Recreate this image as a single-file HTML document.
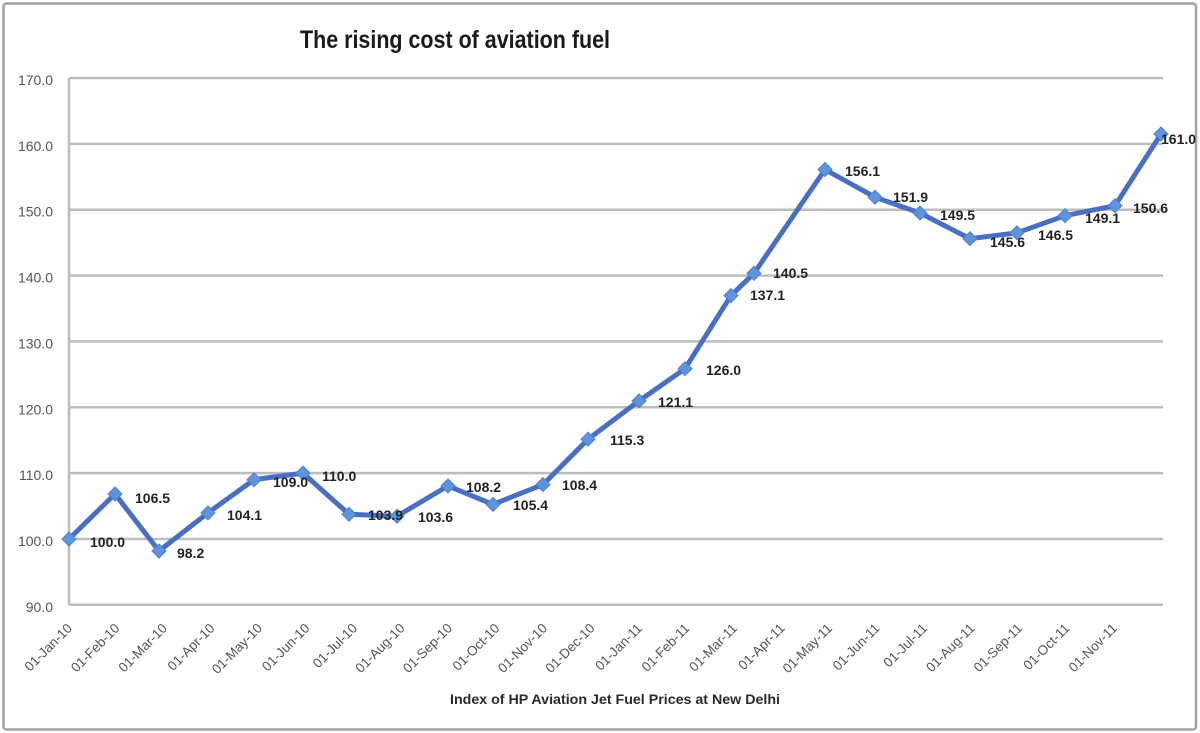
<!DOCTYPE html>
<html>
<head>
<meta charset="utf-8">
<style>
  html, body { margin: 0; padding: 0; background: #ffffff; }
  svg { display: block; }
  .yl { font-family: "Liberation Sans", sans-serif; font-size: 14px; fill: #555; }
  .xl { font-family: "Liberation Sans", sans-serif; font-size: 13.5px; fill: #555; }
  .dl { font-family: "Liberation Sans", sans-serif; font-size: 14px; font-weight: bold; fill: #222; }
</style>
</head>
<body>
<svg width="1200" height="733" viewBox="0 0 1200 733" xmlns="http://www.w3.org/2000/svg">
  <rect x="0" y="0" width="1200" height="733" fill="#ffffff"/>
  <rect x="3.5" y="3.5" width="1192.5" height="726" rx="3" fill="#ffffff" stroke="#a3a3a3" stroke-width="2.5"/>

  <!-- Title -->
  <text x="300" y="48" font-family="Liberation Sans, sans-serif" font-size="25" font-weight="bold" fill="#1a1a1a" textLength="310" lengthAdjust="spacingAndGlyphs">The rising cost of aviation fuel</text>

  <!-- Gridlines -->
  <g stroke="#bdbdbd" stroke-width="2.5">
    <line x1="69" y1="78" x2="1163" y2="78"/>
    <line x1="69" y1="143.9" x2="1163" y2="143.9"/>
    <line x1="69" y1="209.7" x2="1163" y2="209.7"/>
    <line x1="69" y1="275.6" x2="1163" y2="275.6"/>
    <line x1="69" y1="341.4" x2="1163" y2="341.4"/>
    <line x1="69" y1="407.3" x2="1163" y2="407.3"/>
    <line x1="69" y1="473.1" x2="1163" y2="473.1"/>
    <line x1="69" y1="539" x2="1163" y2="539"/>
    <line x1="69" y1="604.8" x2="1163" y2="604.8"/>
    <line x1="69" y1="78" x2="69" y2="604.8"/>
  </g>

  <!-- Y labels -->
  <g class="yl" text-anchor="end">
    <text x="53" y="85">170.0</text>
    <text x="53" y="150.9">160.0</text>
    <text x="53" y="216.7">150.0</text>
    <text x="53" y="282.6">140.0</text>
    <text x="53" y="348.4">130.0</text>
    <text x="53" y="414.3">120.0</text>
    <text x="53" y="480.1">110.0</text>
    <text x="53" y="546">100.0</text>
    <text x="53" y="611.8">90.0</text>
  </g>

  <!-- X labels -->
  <g class="xl" text-anchor="end">
    <text transform="translate(73,629) rotate(-45)">01-Jan-10</text>
    <text transform="translate(120.5,629) rotate(-45)">01-Feb-10</text>
    <text transform="translate(168,629) rotate(-45)">01-Mar-10</text>
    <text transform="translate(215.5,629) rotate(-45)">01-Apr-10</text>
    <text transform="translate(263,629) rotate(-45)">01-May-10</text>
    <text transform="translate(310.5,629) rotate(-45)">01-Jun-10</text>
    <text transform="translate(358,629) rotate(-45)">01-Jul-10</text>
    <text transform="translate(405.5,629) rotate(-45)">01-Aug-10</text>
    <text transform="translate(453,629) rotate(-45)">01-Sep-10</text>
    <text transform="translate(500.5,629) rotate(-45)">01-Oct-10</text>
    <text transform="translate(548,629) rotate(-45)">01-Nov-10</text>
    <text transform="translate(595.5,629) rotate(-45)">01-Dec-10</text>
    <text transform="translate(643,629) rotate(-45)">01-Jan-11</text>
    <text transform="translate(690.5,629) rotate(-45)">01-Feb-11</text>
    <text transform="translate(738,629) rotate(-45)">01-Mar-11</text>
    <text transform="translate(785.5,629) rotate(-45)">01-Apr-11</text>
    <text transform="translate(833,629) rotate(-45)">01-May-11</text>
    <text transform="translate(880.5,629) rotate(-45)">01-Jun-11</text>
    <text transform="translate(928,629) rotate(-45)">01-Jul-11</text>
    <text transform="translate(975.5,629) rotate(-45)">01-Aug-11</text>
    <text transform="translate(1023,629) rotate(-45)">01-Sep-11</text>
    <text transform="translate(1070.5,629) rotate(-45)">01-Oct-11</text>
    <text transform="translate(1118,629) rotate(-45)">01-Nov-11</text>
  </g>

  <!-- Axis title -->
  <text x="450" y="704" font-family="Liberation Sans, sans-serif" font-size="14" font-weight="bold" fill="#2a2a2a" textLength="330" lengthAdjust="spacingAndGlyphs">Index of HP Aviation Jet Fuel Prices at New Delhi</text>

  <!-- Series line -->
  <polyline fill="none" stroke="#4a6fc2" stroke-width="5" stroke-linejoin="round" stroke-linecap="round"
    points="69,539 115,494 159,551 208,512.9 254,479.7 303,473.1 349,514.3 397,516.2 448,485.9 493,504.4 543,484.6 588,439.2 639,400.9 685,368.7 731,295.6 754,273.3 825,169.5 875,197.2 920,213 970,238.7 1017,232.8 1065,215.7 1115,205.7 1161,134"/>

  <!-- Markers -->
  <g fill="#5d94dc" stroke="#4f82cc" stroke-width="1">
    <path d="M69,532 L76,539 L69,546 L62,539 Z"/>
    <path d="M115,487 L122,494 L115,501 L108,494 Z"/>
    <path d="M159,544 L166,551 L159,558 L152,551 Z"/>
    <path d="M208,505.9 L215,512.9 L208,519.9 L201,512.9 Z"/>
    <path d="M254,472.7 L261,479.7 L254,486.7 L247,479.7 Z"/>
    <path d="M303,466.1 L310,473.1 L303,480.1 L296,473.1 Z"/>
    <path d="M349,507.3 L356,514.3 L349,521.3 L342,514.3 Z"/>
    <path d="M397,509.2 L404,516.2 L397,523.2 L390,516.2 Z"/>
    <path d="M448,478.9 L455,485.9 L448,492.9 L441,485.9 Z"/>
    <path d="M493,497.4 L500,504.4 L493,511.4 L486,504.4 Z"/>
    <path d="M543,477.6 L550,484.6 L543,491.6 L536,484.6 Z"/>
    <path d="M588,432.2 L595,439.2 L588,446.2 L581,439.2 Z"/>
    <path d="M639,393.9 L646,400.9 L639,407.9 L632,400.9 Z"/>
    <path d="M685,361.7 L692,368.7 L685,375.7 L678,368.7 Z"/>
    <path d="M731,288.6 L738,295.6 L731,302.6 L724,295.6 Z"/>
    <path d="M754,266.3 L761,273.3 L754,280.3 L747,273.3 Z"/>
    <path d="M825,162.5 L832,169.5 L825,176.5 L818,169.5 Z"/>
    <path d="M875,190.2 L882,197.2 L875,204.2 L868,197.2 Z"/>
    <path d="M920,206 L927,213 L920,220 L913,213 Z"/>
    <path d="M970,231.7 L977,238.7 L970,245.7 L963,238.7 Z"/>
    <path d="M1017,225.8 L1024,232.8 L1017,239.8 L1010,232.8 Z"/>
    <path d="M1065,208.7 L1072,215.7 L1065,222.7 L1058,215.7 Z"/>
    <path d="M1115,198.7 L1122,205.7 L1115,212.7 L1108,205.7 Z"/>
    <path d="M1161,127 L1168,134 L1161,141 L1154,134 Z"/>
  </g>

  <!-- Data labels (x = left, y = baseline) -->
  <g class="dl">
    <text x="90" y="547">100.0</text>
    <text x="135" y="503">106.5</text>
    <text x="177" y="558">98.2</text>
    <text x="227" y="520">104.1</text>
    <text x="273" y="487">109.0</text>
    <text x="322" y="481">110.0</text>
    <text x="368" y="520">103.9</text>
    <text x="418" y="522">103.6</text>
    <text x="466" y="492">108.2</text>
    <text x="513" y="510">105.4</text>
    <text x="562" y="490">108.4</text>
    <text x="610" y="445">115.3</text>
    <text x="658" y="407">121.1</text>
    <text x="706" y="375">126.0</text>
    <text x="750" y="300">137.1</text>
    <text x="773" y="278">140.5</text>
    <text x="845" y="176">156.1</text>
    <text x="893" y="202">151.9</text>
    <text x="940" y="220">149.5</text>
    <text x="990" y="247">145.6</text>
    <text x="1038" y="240">146.5</text>
    <text x="1085" y="223">149.1</text>
    <text x="1133" y="213">150.6</text>
    <text x="1161" y="144">161.0</text>
  </g>
</svg>
</body>
</html>
